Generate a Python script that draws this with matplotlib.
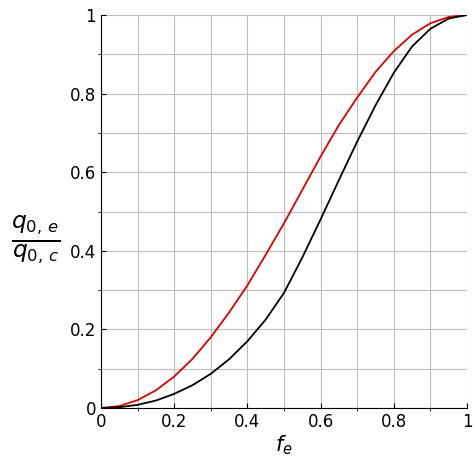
import matplotlib
matplotlib.use("Agg")
import matplotlib.pyplot as plt
import numpy as np

fe = [0,.05,.1,.15,.2,.25,.3,.35,.4,.45,.5,.55,.6,.65,.7,.75,.8,.85,.9,.95,1]
red = [0,.005,.02,.045,.08,.125,.18,.243,.312,.39,.47,.555,.64,.72,.79,.855,.908,.95,.979,.995,1]
black = [0,.002,.008,.019,.036,.058,.087,.124,.17,.225,.293,.383,.48,.58,.678,.77,.853,.92,.965,.991,1]
ticks = [0,0.2,0.4,0.6,0.8,1]
ticklabels = ["0","0.2","0.4","0.6","0.8","1"]

fig = plt.figure(figsize=(4.74,4.74), dpi=100)
ax = fig.add_axes([101/474, 1-408/474, 366/474, 393/474])
ax.plot(fe, red, color="#e00000", lw=1.3)
ax.plot(fe, black, color="black", lw=1.3)
ax.set_xlim(0,1); ax.set_ylim(0,1)
ax.set_xticks(ticks, ticklabels); ax.set_yticks(ticks, ticklabels)
ax.set_xticks(np.arange(0,1.01,0.1), minor=True)
ax.set_yticks(np.arange(0,1.01,0.1), minor=True)
ax.grid(which="both", color="#bdbdbd", lw=0.8)
ax.set_axisbelow(True)
for s in ["top","right"]:
    ax.spines[s].set_visible(False)
ax.tick_params(labelsize=12, direction="in")
ax.set_xlabel(r"$f_e$", fontsize=15, labelpad=2)
fig.text(36/474, 1-240/474, r"$\frac{q_{0,\,e}}{q_{0,\,c}}$", fontsize=24, ha="center", va="center")
fig.savefig("out.png")
